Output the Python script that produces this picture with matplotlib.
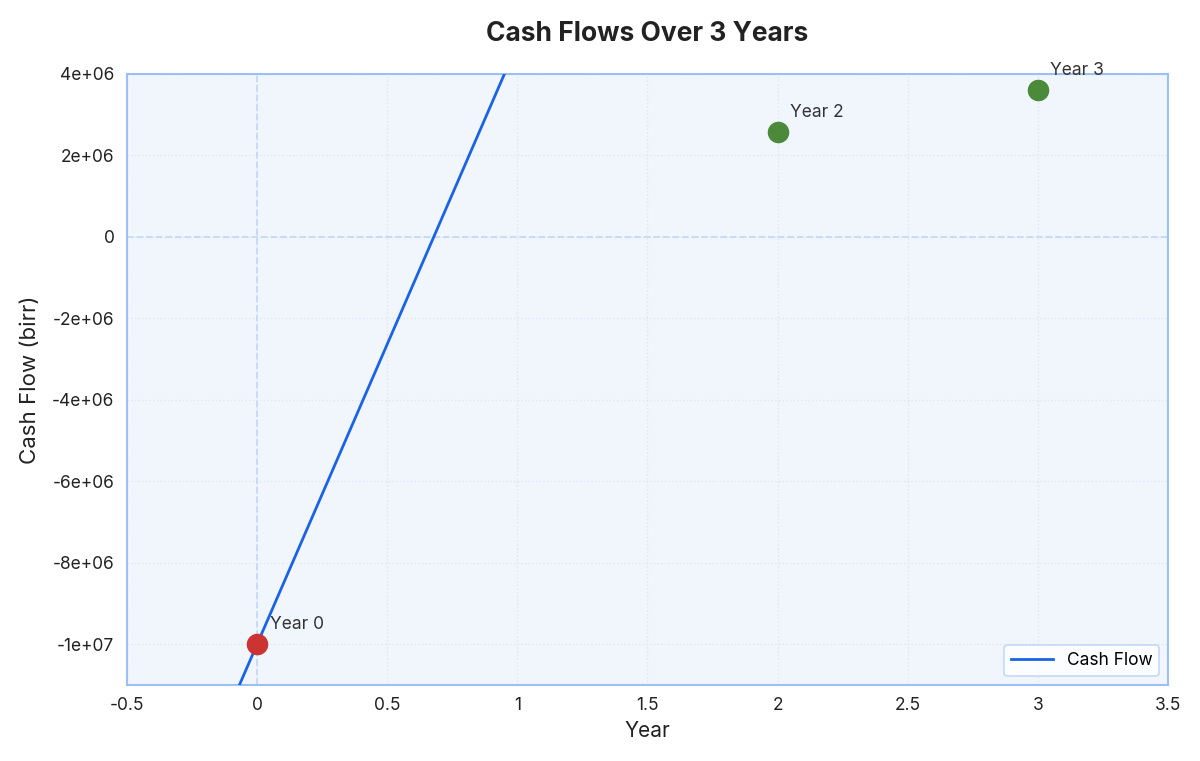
import numpy as np
import matplotlib
matplotlib.use("Agg")
import matplotlib.pyplot as plt

# data
years = [0, 1, 2, 3]
cash_flows = [-1.0e7, 4.73e6, 2.58e6, 3.61e6]
point_labels = ["Year 0", "Year 1", "Year 2", "Year 3"]
point_colors = ["#cc3333", "#4a8a3a", "#4a8a3a", "#4a8a3a"]

# the blue line only shows the first leg, extended a bit to the left
line_years = [-1, 0, 1]
line_values = [-2.473e7, -1.0e7, 4.73e6]

plt.rcParams['font.family'] = ['Inter', 'DejaVu Sans']

fig = plt.figure(figsize=(12, 7.61), dpi=100)
ax = fig.add_axes([0.1058, 0.0999, 0.8675, 0.8029])
ax.set_facecolor("#f1f6fd")

ax.plot(line_years, line_values, color="#1a62e6", lw=2.0, label="Cash Flow", zorder=3)

for x, y, lab, c in zip(years, cash_flows, point_labels, point_colors):
    ax.plot(x, y, 'o', color=c, ms=14.5, zorder=4)
    ax.annotate(lab, (x, y), xytext=(9, 11), textcoords='offset points',
                fontsize=12.5, color="#333333")

ax.axhline(0, color="#c4d9f8", ls="--", lw=1.3, zorder=1)
ax.axvline(0, color="#c4d9f8", ls="--", lw=1.3, zorder=1)

ax.set_xlim(-0.5, 3.5)
ax.set_ylim(-1.1e7, 4e6)
ax.set_xticks(np.arange(-0.5, 3.51, 0.5))
ax.set_xticklabels(["-0.5", "0", "0.5", "1", "1.5", "2", "2.5", "3", "3.5"])
ax.set_yticks(np.arange(-1e7, 4.1e6, 2e6))
ax.set_yticklabels(["-1e+07", "-8e+06", "-6e+06", "-4e+06", "-2e+06", "0", "2e+06", "4e+06"])
ax.tick_params(length=0, labelsize=12.5, colors="#222222", pad=9)

ax.grid(True, ls=":", color="#dde6f3", lw=1)
ax.set_axisbelow(True)
for s in ax.spines.values():
    s.set_color("#9cc0f5")
    s.set_linewidth(1.5)

ax.set_xlabel("Year", fontsize=15, color="#222222", labelpad=5)
ax.set_ylabel("Cash Flow (birr)", fontsize=16, color="#222222", labelpad=9)
ax.set_title("Cash Flows Over 3 Years", fontsize=19, fontweight="bold", color="#222222", pad=24)

leg = ax.legend(loc="lower right", fontsize=12.5, frameon=True, handlelength=2.4)
leg.get_frame().set_edgecolor("#b8d0f5")
leg.get_frame().set_facecolor("white")
leg.get_frame().set_linewidth(1.2)

fig.savefig("out.png", dpi=100)
